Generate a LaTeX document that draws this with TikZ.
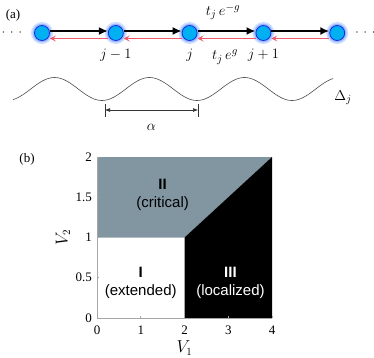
\documentclass[tikz,border=0pt]{standalone}
\usepackage{fontspec}
\setmainfont{Liberation Serif}
\setsansfont{Liberation Sans}
\usepackage{tikz}
\usetikzlibrary{arrows.meta,positioning}
\definecolor{sitecyan}{RGB}{0,176,240}
\definecolor{siteblue}{RGB}{30,40,225}
\definecolor{haloout}{RGB}{205,222,255}
\definecolor{haloin}{RGB}{150,185,255}
\definecolor{hoppink}{RGB}{236,90,108}
\definecolor{critgray}{RGB}{130,150,162}

\begin{document}
\begin{tikzpicture}[
    x=1pt, y=1pt,
    font=\fontsize{13}{15}\selectfont,
    node distance=58pt,
    site/.style={circle, draw=siteblue, fill=sitecyan, line width=0.8pt, minimum size=15pt, inner sep=0pt,
      preaction={draw=haloout, line width=7pt}, preaction={draw=haloin, line width=3.5pt}},
    hopright/.style={-{Latex[length=9pt, width=8pt]}, line width=2.4pt},
    hopleft/.style={-{Stealth[length=6pt, width=6pt, inset=2.5pt]}, hoppink, line width=1.8pt},
    sitelab/.style={font=\fontsize{15}{17}\selectfont},
    wave/.style={gray!60!black, line width=0.6pt},
    period/.style={{Latex[length=5pt, width=4pt]}-{Latex[length=5pt, width=4pt]}, gray!40!black, line width=0.6pt},
    axis/.style={gray!70, line width=0.6pt},
    region/.style={font=\sffamily\fontsize{15}{17}\selectfont, align=center},
    ticklab/.style={inner sep=1pt}
  ]
    \useasboundingbox (0,0) rectangle (374,357);
    % (a) chain
    \node (pa) at (13,342) {(a)};
    \node[site] (s1) at (42,324) {};
    \node[site, right=of s1] (s2) {};
    \node[site, right=of s2] (s3) {};
    \node[site, right=of s3] (s4) {};
    \node[site, right=of s4] (s5) {};
    \node[inner sep=0pt, left=12pt of s1] (dl) {$\cdot$\hspace{5pt}$\cdot$\hspace{5pt}$\cdot$};
    \node[inner sep=0pt, right=10pt of s5] (dr) {$\cdot$\hspace{5pt}$\cdot$\hspace{5pt}$\cdot$};
    \draw[hopleft] (s2.west |- 0,318.5) -- (s1.east |- 0,318.5);
    \draw[hopleft] (s3.west |- 0,318.5) -- (s2.east |- 0,318.5);
    \draw[hopleft] (s4.west |- 0,318.5) -- (s3.east |- 0,318.5);
    \draw[hopleft] (s5.west |- 0,318.5) -- (s4.east |- 0,318.5);
    \foreach \p/\q in {s1/s2, s2/s3, s3/s4, s4/s5} {
      \draw[hopright] ([yshift=2pt]\p.east) -- ([yshift=2pt]\q.west);
    }
    \node[sitelab, below=5pt of s2] (lm) {$j-1$};
    \node[sitelab, below=5pt of s3] (l0) {$j$};
    \node[sitelab, below=5pt of s4] (lp) {$j+1$};
    \node[sitelab] (tm) at (223,345) {$t_j\, e^{-g}$};
    \node[sitelab] (tp) at (225,300) {$t_j\, e^{g}$};
    % on-site potential
    \draw[wave] plot[domain=13:333, samples=140, smooth] (\x, {268-11.5*cos((\x-102)*3.7895)});
    \node[sitelab] (dj) at (343,259) {$\Delta_j$};
    \coordinate (ta) at (105,247);
    \coordinate (tb) at (198,247);
    \draw[gray!40!black, line width=0.6pt] ([yshift=6pt]ta) -- ([yshift=-7pt]ta);
    \draw[gray!40!black, line width=0.6pt] ([yshift=6pt]tb) -- ([yshift=-7pt]tb);
    \draw[period] (ta) -- (tb);
    \node[sitelab] (al) at (151.5,230) {$\alpha$};
    % (b) phase diagram
    \node (pb) at (27,198) {(b)};
    \begin{scope}[shift={(97,39)}, x=43.75pt, y=80.5pt]
      \fill[critgray] (0,1) -- (0,2) -- (4,2) -- (2,1) -- cycle;
      \fill[black] (2,0) -- (4,0) -- (4,2) -- (2,1) -- cycle;
      \draw[axis] (0,2) -- (0,0) -- (4,0);
      \foreach \v in {0,...,4} {
        \draw[axis] (\v,0) -- ++(0,2pt);
        \node[ticklab, below=7pt] (xt\v) at (\v,0) {\v};
      }
      \foreach \v [count=\i] in {0,0.5,1,1.5,2} {
        \draw[axis] (0,\v) -- ++(2pt,0);
        \node[ticklab, left=4pt] (yt\i) at (0,\v) {\v};
      }
      \node[region] (r1) at (1,0.43) {\textbf{I}\\[1pt](extended)};
      \node[region] (r2) at (1.5,1.53) {\textbf{II}\\[1pt](critical)};
      \node[region, text=white] (r3) at (3.05,0.43) {\textbf{III}\\[1pt](localized)};
    \end{scope}
    \node[font=\fontsize{16}{18}\selectfont] (v1) at (184.5,9) {$V_1$};
    \node[font=\fontsize{16}{18}\selectfont, rotate=90] (v2) at (63,119.5) {$V_2$};
  \end{tikzpicture}
\end{document}
